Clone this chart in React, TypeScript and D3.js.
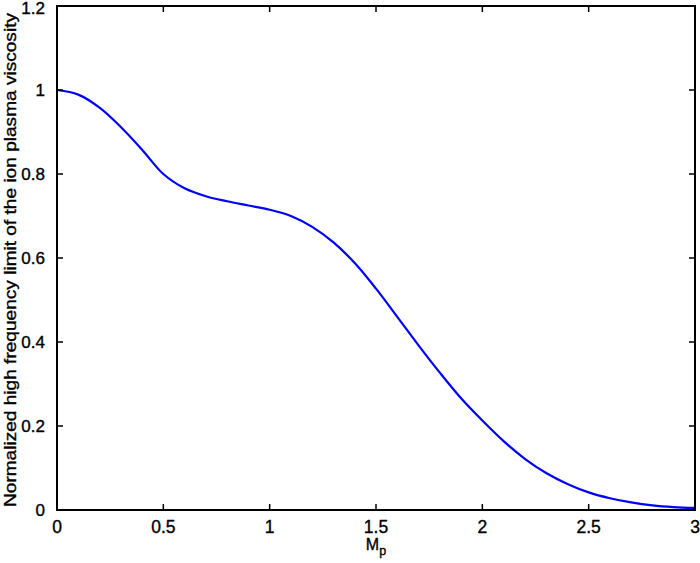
import React from 'react';
import * as d3 from 'd3';

// Mp values and normalized viscosity
const mpValues = [0, 0.1, 0.2, 0.3, 0.4, 0.5, 0.6, 0.7, 0.8, 0.9, 1.0, 1.1, 1.2, 1.3, 1.4, 1.5, 1.6, 1.7, 1.8, 1.9, 2.0, 2.1, 2.2, 2.3, 2.4, 2.5, 2.6, 2.7, 2.8, 2.9, 3.0];
const viscosity = [1.0, 0.989, 0.958, 0.912, 0.858, 0.8, 0.766, 0.747, 0.735, 0.725, 0.715, 0.7, 0.674, 0.637, 0.588, 0.527, 0.46, 0.392, 0.327, 0.266, 0.213, 0.164, 0.122, 0.088, 0.062, 0.042, 0.028, 0.018, 0.011, 0.007, 0.005];

const xTicks = [0, 0.5, 1, 1.5, 2, 2.5, 3];
const yTicks = [0, 0.2, 0.4, 0.6, 0.8, 1, 1.2];

const W = 700;
const H = 563;
const margin = { left: 57, right: 5, top: 6, bottom: 53 };

export default function App() {
  const x = d3.scaleLinear().domain([0, 3]).range([margin.left, W - margin.right]);
  const y = d3.scaleLinear().domain([0, 1.2]).range([H - margin.bottom, margin.top]);

  const line = d3
    .line<number>()
    .x((_, i) => x(mpValues[i]))
    .y((d) => y(d))
    .curve(d3.curveCatmullRom.alpha(0.5));

  const font = 'Liberation Sans, Arial, Helvetica, sans-serif';
  const tickLen = 6;
  const x0 = x(0), x1 = x(3), y0 = y(0), y1 = y(1.2);
  const textProps = { fill: '#000', stroke: '#000', strokeWidth: 0.35 };

  return (
    <svg
      width={W}
      height={H}
      style={{ position: 'absolute', left: 0, top: 0, background: '#fff' }}
      fontFamily={font}
    >
      <path d={line(viscosity) || ''} fill="none" stroke="#0000ff" strokeWidth={2.2} />

      {xTicks.map((t) => (
        <g key={'x' + t}>
          <line x1={x(t)} x2={x(t)} y1={y0} y2={y0 - tickLen} stroke="#000" strokeWidth={1.5} />
          <line x1={x(t)} x2={x(t)} y1={y1} y2={y1 + tickLen} stroke="#000" strokeWidth={1.5} />
          <text x={x(t)} y={y0 + 23} textAnchor="middle" fontSize={17.5} {...textProps}>
            {t}
          </text>
        </g>
      ))}
      {yTicks.map((t) => (
        <g key={'y' + t}>
          <line x1={x0} x2={x0 + tickLen} y1={y(t)} y2={y(t)} stroke="#000" strokeWidth={1.5} />
          <line x1={x1} x2={x1 - tickLen} y1={y(t)} y2={y(t)} stroke="#000" strokeWidth={1.5} />
          <text x={x0 - 12} y={Math.max(y(t) + 6, 14)} textAnchor="end" fontSize={17} {...textProps}>
            {t}
          </text>
        </g>
      ))}

      <rect x={x0} y={y1} width={x1 - x0} height={y0 - y1} fill="none" stroke="#000" strokeWidth={2} />

      <text x={(x0 + x1) / 2} y={550} textAnchor="middle" fontSize={16} {...textProps}>
        M<tspan dy={5} fontSize={12.5}>p</tspan>
      </text>
      <text
        transform={`translate(16,${(y0 + y1) / 2 + 2}) rotate(-90)`}
        textAnchor="middle"
        fontSize={17}
        textLength={494}
        lengthAdjust="spacingAndGlyphs"
        {...textProps}
      >
        Normalized high frequency limit of the ion plasma viscosity
      </text>
    </svg>
  );
}
